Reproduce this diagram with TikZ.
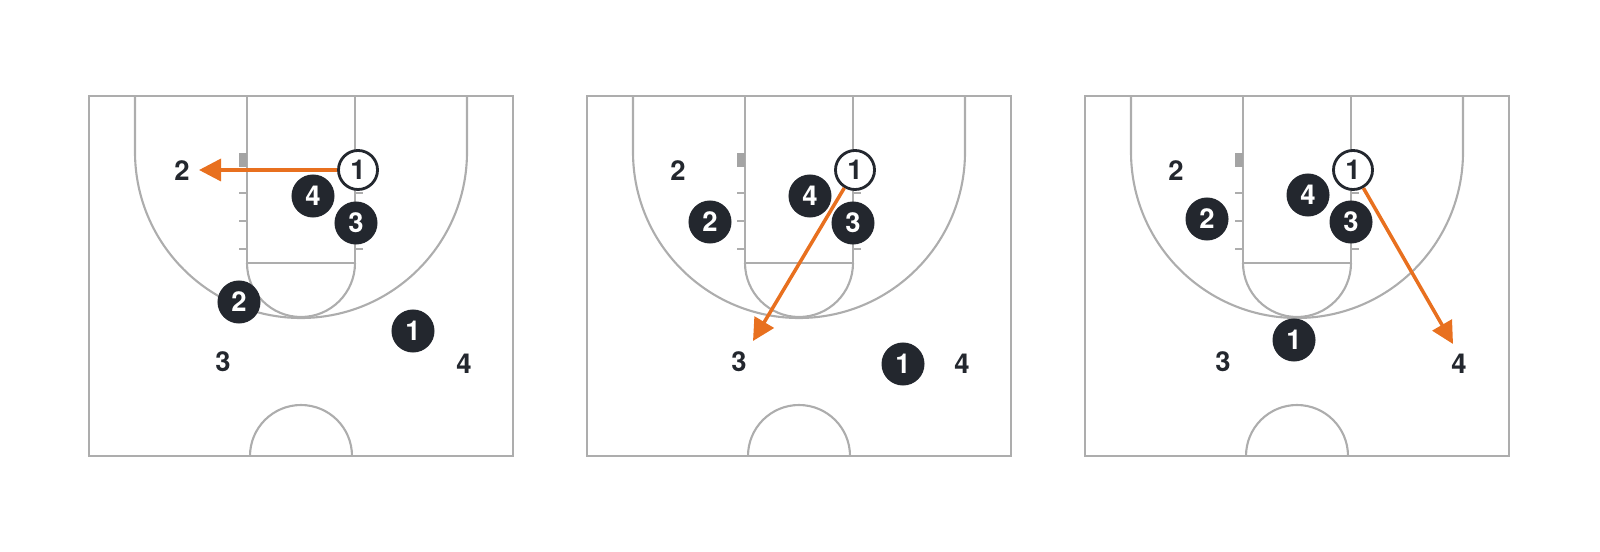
\documentclass[tikz,border=0pt]{standalone}
\usepackage{fontspec}
\setmainfont{TeX Gyre Heros}
\usetikzlibrary{arrows.meta}
\definecolor{ink}{HTML}{23272E}
\definecolor{lines}{HTML}{ADADAD}
\definecolor{blockgray}{HTML}{A4A4A4}
\definecolor{passorange}{HTML}{E8701F}

\begin{document}
\begin{tikzpicture}[
		x=0.01cm, y=-0.01cm,
		> = {Triangle[length=0.22cm,width=0.22cm]},
		court/.style = {draw=lines, line width=0.6pt},
		border/.style = {draw=lines, line width=0.8pt},
		num/.style = {font=\bfseries\fontsize{7.8}{9}\selectfont},
		player/.style = {num, circle, fill=ink, text=white, minimum size=0.43cm, inner sep=0pt},
		ball/.style = {num, circle, draw=ink, fill=white, text=ink, line width=0.8pt, minimum size=0.39cm, inner sep=0pt},
		spot/.style = {num, text=ink, inner sep=1pt},
		pass/.style = {->, draw=passorange, line width=1pt}
		]
		\useasboundingbox (0,0) rectangle (1600,552);
		% Half courts
		\foreach \dx in {89,587,1085}{
			\begin{scope}[shift={(\dx,96)}]
				\draw[border] (0,0) rectangle (424,360);
				\draw[court] (46,0) -- (46,56) arc[start angle=180, end angle=0, radius=166] -- (378,0);
				\draw[court] (158,0) -- (158,167) -- (266,167) -- (266,0);
				\draw[court] (158,167) arc[start angle=180, end angle=0, radius=54];
				\draw[court] (161,360) arc[start angle=180, end angle=360, radius=51];
				\fill[blockgray] (150,57) rectangle (158,71);
				\fill[blockgray] (266,57) rectangle (274,71);
				\foreach \ty in {97,125,153}{
					\draw[court] (150,\ty) -- (158,\ty);
					\draw[court] (266,\ty) -- (274,\ty);
				}
			\end{scope}
		}

		% Court A
		\node[ball] (ballA) at (358,170) {1};
		\node[player] (fourA) at (313,196) {4};
		\node[player] (threeA) at (356,223) {3};
		\node[player] (twoA) at (239,302) {2};
		\node[player] (oneA) at (413,331) {1};
		\node[spot] (spot2A) at (182,171) {2};
		\node[spot] (spot3A) at (223,362) {3};
		\node[spot] (spot4A) at (464,364) {4};
		\coordinate (tipA) at (199,170);
		\draw[pass] (ballA) -- (tipA);

		% Court B
		\node[ball] (ballB) at (855,170) {1};
		\node[player] (fourB) at (810,196) {4};
		\node[player] (threeB) at (853,223) {3};
		\node[player] (twoB) at (710,222) {2};
		\node[player] (oneB) at (903,364) {1};
		\node[spot] (spot2B) at (678,171) {2};
		\node[spot] (spot3B) at (739,362) {3};
		\node[spot] (spot4B) at (962,364) {4};
		\coordinate (tipB) at (753,341);
		\draw[pass] (ballB) -- (tipB);

		% Court C
		\node[ball] (ballC) at (1353,170) {1};
		\node[player] (fourC) at (1308,195) {4};
		\node[player] (threeC) at (1351,222) {3};
		\node[player] (twoC) at (1207,219) {2};
		\node[player] (oneC) at (1294,340) {1};
		\node[spot] (spot2C) at (1176,171) {2};
		\node[spot] (spot3C) at (1223,362) {3};
		\node[spot] (spot4C) at (1459,364) {4};
		\coordinate (tipC) at (1453,344);
		\draw[pass] (ballC) -- (tipC);
	\end{tikzpicture}
\end{document}
